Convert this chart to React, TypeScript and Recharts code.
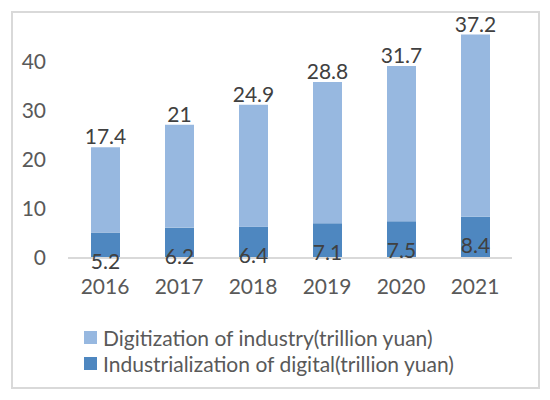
import { BarChart, Bar, XAxis, YAxis, LabelList } from "recharts";

const years = ["2016", "2017", "2018", "2019", "2020", "2021"];
const industrialization = [5.2, 6.2, 6.4, 7.1, 7.5, 8.4];
const digitization = [17.4, 21, 24.9, 28.8, 31.7, 37.2];
const yTicks = [0, 10, 20, 30, 40];

const data = years.map((year, i) => ({
  year,
  industrialization: industrialization[i],
  digitization: digitization[i],
}));

const FONT = "Lato, 'Open Sans', sans-serif";
const FS = 21;
const LIGHT = "#97b8e0";
const DARK = "#4e87c0";

const BottomLabel = (props: any) => {
  const { x, y, width, value } = props;
  return (
    <text
      x={x + width / 2}
      y={y + 28}
      textAnchor="middle"
      dominantBaseline="central"
      fontSize={FS}
      fontFamily={FONT}
      fill="#404040"
    >
      {value}
    </text>
  );
};

const legendItems = [
  { name: "Digitization of industry(trillion yuan)", color: LIGHT },
  { name: "Industrialization of digital(trillion yuan)", color: DARK },
];

export default function App() {
  return (
    <div style={{ position: "absolute", left: 0, top: 0, width: 550, height: 400, background: "#fff" }}>
      <div
        style={{
          position: "absolute",
          left: 11,
          top: 11,
          width: 525,
          height: 374,
          border: "2px solid #d9d9d9",
        }}
      />
      <BarChart
        width={550}
        height={400}
        data={data}
        margin={{ top: 13, right: 38, bottom: 112, left: 0 }}
        style={{ position: "absolute", left: 0, top: 0 }}
      >
        <XAxis
          dataKey="year"
          height={30}
          axisLine={{ stroke: "#d9d9d9", strokeWidth: 2 }}
          tickLine={false}
          tickSize={0}
          tickMargin={21}
          tick={{ fill: "#595959", fontSize: FS, fontFamily: FONT }}
          interval={0}
        />
        <YAxis
          width={68}
          domain={[0, 50]}
          ticks={yTicks}
          axisLine={false}
          tickLine={false}
          tickSize={0}
          tickMargin={22}
          tick={{ fill: "#595959", fontSize: FS, fontFamily: FONT }}
        />
        <Bar dataKey="industrialization" stackId="a" fill={DARK} barSize={29} isAnimationActive={false}>
          <LabelList dataKey="industrialization" content={<BottomLabel />} />
        </Bar>
        <Bar dataKey="digitization" stackId="a" fill={LIGHT} barSize={29} isAnimationActive={false}>
          <LabelList
            dataKey="digitization"
            position="top"
            offset={3}
            fontSize={FS}
            fontFamily={FONT}
            fill="#404040"
          />
        </Bar>
      </BarChart>
      <div
        style={{
          position: "absolute",
          left: 84,
          top: 324,
          fontFamily: FONT,
          fontSize: FS,
          color: "#595959",
        }}
      >
        {legendItems.map((it) => (
          <div key={it.name} style={{ display: "flex", alignItems: "center", height: 26 }}>
            <span style={{ width: 13, height: 13, background: it.color, marginRight: 6, flexShrink: 0 }} />
            <span style={{ whiteSpace: "nowrap" }}>{it.name}</span>
          </div>
        ))}
      </div>
    </div>
  );
}
